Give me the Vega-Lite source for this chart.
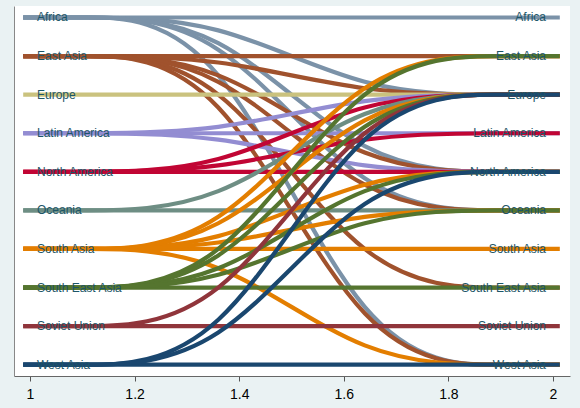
{
  "$schema": "https://vega.github.io/schema/vega-lite/v6.json",
  "width": 556,
  "height": 370,
  "autosize": {"type": "none"},
  "padding": {"left": 14, "top": 6, "right": 10, "bottom": 32},
  "background": "#eaf2f3",
  "config": {
    "view": {"fill": "white", "stroke": null},
    "axis": {"grid": false, "title": null}
  },
  "datasets": {
    "labels": [
      {"r": "Africa", "y": 10}, {"r": "East Asia", "y": 9}, {"r": "Europe", "y": 8},
      {"r": "Latin America", "y": 7}, {"r": "North America", "y": 6}, {"r": "Oceania", "y": 5},
      {"r": "South Asia", "y": 4}, {"r": "South East Asia", "y": 3}, {"r": "Soviet Union", "y": 2},
      {"r": "West Asia", "y": 1}
    ],
    "flows": [
      {"o":"Africa","d":"Africa","x":0.987,"y":10},{"o":"Africa","d":"Africa","x":1.08,"y":10},{"o":"Africa","d":"Africa","x":1.36,"y":10},{"o":"Africa","d":"Africa","x":1.64,"y":10},{"o":"Africa","d":"Africa","x":1.92,"y":10},{"o":"Africa","d":"Africa","x":2.013,"y":10},
      {"o":"Africa","d":"Europe","x":0.987,"y":10},{"o":"Africa","d":"Europe","x":1.08,"y":10},{"o":"Africa","d":"Europe","x":1.36,"y":10},{"o":"Africa","d":"Europe","x":1.64,"y":8},{"o":"Africa","d":"Europe","x":1.92,"y":8},{"o":"Africa","d":"Europe","x":2.013,"y":8},
      {"o":"Africa","d":"North America","x":0.987,"y":10},{"o":"Africa","d":"North America","x":1.08,"y":10},{"o":"Africa","d":"North America","x":1.36,"y":10},{"o":"Africa","d":"North America","x":1.64,"y":6},{"o":"Africa","d":"North America","x":1.92,"y":6},{"o":"Africa","d":"North America","x":2.013,"y":6},
      {"o":"Africa","d":"Oceania","x":0.987,"y":10},{"o":"Africa","d":"Oceania","x":1.08,"y":10},{"o":"Africa","d":"Oceania","x":1.36,"y":10},{"o":"Africa","d":"Oceania","x":1.64,"y":5},{"o":"Africa","d":"Oceania","x":1.92,"y":5},{"o":"Africa","d":"Oceania","x":2.013,"y":5},
      {"o":"Africa","d":"West Asia","x":0.987,"y":10},{"o":"Africa","d":"West Asia","x":1.08,"y":10},{"o":"Africa","d":"West Asia","x":1.36,"y":10},{"o":"Africa","d":"West Asia","x":1.64,"y":1},{"o":"Africa","d":"West Asia","x":1.92,"y":1},{"o":"Africa","d":"West Asia","x":2.013,"y":1},

      {"o":"East Asia","d":"East Asia","x":0.987,"y":9},{"o":"East Asia","d":"East Asia","x":1.08,"y":9},{"o":"East Asia","d":"East Asia","x":1.36,"y":9},{"o":"East Asia","d":"East Asia","x":1.64,"y":9},{"o":"East Asia","d":"East Asia","x":1.92,"y":9},{"o":"East Asia","d":"East Asia","x":2.013,"y":9},
      {"o":"East Asia","d":"Europe","x":0.987,"y":9},{"o":"East Asia","d":"Europe","x":1.08,"y":9},{"o":"East Asia","d":"Europe","x":1.36,"y":9},{"o":"East Asia","d":"Europe","x":1.64,"y":8},{"o":"East Asia","d":"Europe","x":1.92,"y":8},{"o":"East Asia","d":"Europe","x":2.013,"y":8},
      {"o":"East Asia","d":"North America","x":0.987,"y":9},{"o":"East Asia","d":"North America","x":1.08,"y":9},{"o":"East Asia","d":"North America","x":1.36,"y":9},{"o":"East Asia","d":"North America","x":1.64,"y":6},{"o":"East Asia","d":"North America","x":1.92,"y":6},{"o":"East Asia","d":"North America","x":2.013,"y":6},
      {"o":"East Asia","d":"Oceania","x":0.987,"y":9},{"o":"East Asia","d":"Oceania","x":1.08,"y":9},{"o":"East Asia","d":"Oceania","x":1.36,"y":9},{"o":"East Asia","d":"Oceania","x":1.64,"y":5},{"o":"East Asia","d":"Oceania","x":1.92,"y":5},{"o":"East Asia","d":"Oceania","x":2.013,"y":5},
      {"o":"East Asia","d":"South East Asia","x":0.987,"y":9},{"o":"East Asia","d":"South East Asia","x":1.08,"y":9},{"o":"East Asia","d":"South East Asia","x":1.36,"y":9},{"o":"East Asia","d":"South East Asia","x":1.64,"y":3},{"o":"East Asia","d":"South East Asia","x":1.92,"y":3},{"o":"East Asia","d":"South East Asia","x":2.013,"y":3},
      {"o":"East Asia","d":"West Asia","x":0.987,"y":9},{"o":"East Asia","d":"West Asia","x":1.08,"y":9},{"o":"East Asia","d":"West Asia","x":1.36,"y":9},{"o":"East Asia","d":"West Asia","x":1.64,"y":1},{"o":"East Asia","d":"West Asia","x":1.92,"y":1},{"o":"East Asia","d":"West Asia","x":2.013,"y":1},

      {"o":"Europe","d":"Europe","x":0.987,"y":8},{"o":"Europe","d":"Europe","x":1.08,"y":8},{"o":"Europe","d":"Europe","x":1.36,"y":8},{"o":"Europe","d":"Europe","x":1.64,"y":8},{"o":"Europe","d":"Europe","x":1.92,"y":8},{"o":"Europe","d":"Europe","x":2.013,"y":8},

      {"o":"Latin America","d":"Latin America","x":0.987,"y":7},{"o":"Latin America","d":"Latin America","x":1.08,"y":7},{"o":"Latin America","d":"Latin America","x":1.36,"y":7},{"o":"Latin America","d":"Latin America","x":1.64,"y":7},{"o":"Latin America","d":"Latin America","x":1.92,"y":7},{"o":"Latin America","d":"Latin America","x":2.013,"y":7},
      {"o":"Latin America","d":"Europe","x":0.987,"y":7},{"o":"Latin America","d":"Europe","x":1.08,"y":7},{"o":"Latin America","d":"Europe","x":1.36,"y":7},{"o":"Latin America","d":"Europe","x":1.64,"y":8},{"o":"Latin America","d":"Europe","x":1.92,"y":8},{"o":"Latin America","d":"Europe","x":2.013,"y":8},
      {"o":"Latin America","d":"North America","x":0.987,"y":7},{"o":"Latin America","d":"North America","x":1.08,"y":7},{"o":"Latin America","d":"North America","x":1.36,"y":7},{"o":"Latin America","d":"North America","x":1.64,"y":6},{"o":"Latin America","d":"North America","x":1.92,"y":6},{"o":"Latin America","d":"North America","x":2.013,"y":6},

      {"o":"North America","d":"North America","x":0.987,"y":6},{"o":"North America","d":"North America","x":1.08,"y":6},{"o":"North America","d":"North America","x":1.36,"y":6},{"o":"North America","d":"North America","x":1.64,"y":6},{"o":"North America","d":"North America","x":1.92,"y":6},{"o":"North America","d":"North America","x":2.013,"y":6},
      {"o":"North America","d":"Europe","x":0.987,"y":6},{"o":"North America","d":"Europe","x":1.08,"y":6},{"o":"North America","d":"Europe","x":1.36,"y":6},{"o":"North America","d":"Europe","x":1.64,"y":8},{"o":"North America","d":"Europe","x":1.92,"y":8},{"o":"North America","d":"Europe","x":2.013,"y":8},
      {"o":"North America","d":"Latin America","x":0.987,"y":6},{"o":"North America","d":"Latin America","x":1.08,"y":6},{"o":"North America","d":"Latin America","x":1.36,"y":6},{"o":"North America","d":"Latin America","x":1.64,"y":7},{"o":"North America","d":"Latin America","x":1.92,"y":7},{"o":"North America","d":"Latin America","x":2.013,"y":7},

      {"o":"Oceania","d":"Oceania","x":0.987,"y":5},{"o":"Oceania","d":"Oceania","x":1.08,"y":5},{"o":"Oceania","d":"Oceania","x":1.36,"y":5},{"o":"Oceania","d":"Oceania","x":1.64,"y":5},{"o":"Oceania","d":"Oceania","x":1.92,"y":5},{"o":"Oceania","d":"Oceania","x":2.013,"y":5},
      {"o":"Oceania","d":"Europe","x":0.987,"y":5},{"o":"Oceania","d":"Europe","x":1.08,"y":5},{"o":"Oceania","d":"Europe","x":1.36,"y":5},{"o":"Oceania","d":"Europe","x":1.64,"y":8},{"o":"Oceania","d":"Europe","x":1.92,"y":8},{"o":"Oceania","d":"Europe","x":2.013,"y":8},

      {"o":"South Asia","d":"South Asia","x":0.987,"y":4},{"o":"South Asia","d":"South Asia","x":1.08,"y":4},{"o":"South Asia","d":"South Asia","x":1.36,"y":4},{"o":"South Asia","d":"South Asia","x":1.64,"y":4},{"o":"South Asia","d":"South Asia","x":1.92,"y":4},{"o":"South Asia","d":"South Asia","x":2.013,"y":4},
      {"o":"South Asia","d":"East Asia","x":0.987,"y":4},{"o":"South Asia","d":"East Asia","x":1.08,"y":4},{"o":"South Asia","d":"East Asia","x":1.36,"y":4},{"o":"South Asia","d":"East Asia","x":1.64,"y":9},{"o":"South Asia","d":"East Asia","x":1.92,"y":9},{"o":"South Asia","d":"East Asia","x":2.013,"y":9},
      {"o":"South Asia","d":"Europe","x":0.987,"y":4},{"o":"South Asia","d":"Europe","x":1.08,"y":4},{"o":"South Asia","d":"Europe","x":1.36,"y":4},{"o":"South Asia","d":"Europe","x":1.64,"y":8},{"o":"South Asia","d":"Europe","x":1.92,"y":8},{"o":"South Asia","d":"Europe","x":2.013,"y":8},
      {"o":"South Asia","d":"North America","x":0.987,"y":4},{"o":"South Asia","d":"North America","x":1.08,"y":4},{"o":"South Asia","d":"North America","x":1.36,"y":4},{"o":"South Asia","d":"North America","x":1.64,"y":6},{"o":"South Asia","d":"North America","x":1.92,"y":6},{"o":"South Asia","d":"North America","x":2.013,"y":6},
      {"o":"South Asia","d":"Oceania","x":0.987,"y":4},{"o":"South Asia","d":"Oceania","x":1.08,"y":4},{"o":"South Asia","d":"Oceania","x":1.36,"y":4},{"o":"South Asia","d":"Oceania","x":1.64,"y":5},{"o":"South Asia","d":"Oceania","x":1.92,"y":5},{"o":"South Asia","d":"Oceania","x":2.013,"y":5},
      {"o":"South Asia","d":"West Asia","x":0.987,"y":4},{"o":"South Asia","d":"West Asia","x":1.08,"y":4},{"o":"South Asia","d":"West Asia","x":1.36,"y":4},{"o":"South Asia","d":"West Asia","x":1.64,"y":1},{"o":"South Asia","d":"West Asia","x":1.92,"y":1},{"o":"South Asia","d":"West Asia","x":2.013,"y":1},

      {"o":"South East Asia","d":"South East Asia","x":0.987,"y":3},{"o":"South East Asia","d":"South East Asia","x":1.08,"y":3},{"o":"South East Asia","d":"South East Asia","x":1.36,"y":3},{"o":"South East Asia","d":"South East Asia","x":1.64,"y":3},{"o":"South East Asia","d":"South East Asia","x":1.92,"y":3},{"o":"South East Asia","d":"South East Asia","x":2.013,"y":3},
      {"o":"South East Asia","d":"East Asia","x":0.987,"y":3},{"o":"South East Asia","d":"East Asia","x":1.08,"y":3},{"o":"South East Asia","d":"East Asia","x":1.36,"y":3},{"o":"South East Asia","d":"East Asia","x":1.64,"y":9},{"o":"South East Asia","d":"East Asia","x":1.92,"y":9},{"o":"South East Asia","d":"East Asia","x":2.013,"y":9},
      {"o":"South East Asia","d":"Europe","x":0.987,"y":3},{"o":"South East Asia","d":"Europe","x":1.08,"y":3},{"o":"South East Asia","d":"Europe","x":1.36,"y":3},{"o":"South East Asia","d":"Europe","x":1.64,"y":8},{"o":"South East Asia","d":"Europe","x":1.92,"y":8},{"o":"South East Asia","d":"Europe","x":2.013,"y":8},
      {"o":"South East Asia","d":"North America","x":0.987,"y":3},{"o":"South East Asia","d":"North America","x":1.08,"y":3},{"o":"South East Asia","d":"North America","x":1.36,"y":3},{"o":"South East Asia","d":"North America","x":1.64,"y":6},{"o":"South East Asia","d":"North America","x":1.92,"y":6},{"o":"South East Asia","d":"North America","x":2.013,"y":6},
      {"o":"South East Asia","d":"Oceania","x":0.987,"y":3},{"o":"South East Asia","d":"Oceania","x":1.08,"y":3},{"o":"South East Asia","d":"Oceania","x":1.36,"y":3},{"o":"South East Asia","d":"Oceania","x":1.64,"y":5},{"o":"South East Asia","d":"Oceania","x":1.92,"y":5},{"o":"South East Asia","d":"Oceania","x":2.013,"y":5},

      {"o":"Soviet Union","d":"Soviet Union","x":0.987,"y":2},{"o":"Soviet Union","d":"Soviet Union","x":1.08,"y":2},{"o":"Soviet Union","d":"Soviet Union","x":1.36,"y":2},{"o":"Soviet Union","d":"Soviet Union","x":1.64,"y":2},{"o":"Soviet Union","d":"Soviet Union","x":1.92,"y":2},{"o":"Soviet Union","d":"Soviet Union","x":2.013,"y":2},
      {"o":"Soviet Union","d":"Europe","x":0.987,"y":2},{"o":"Soviet Union","d":"Europe","x":1.08,"y":2},{"o":"Soviet Union","d":"Europe","x":1.36,"y":2},{"o":"Soviet Union","d":"Europe","x":1.64,"y":8},{"o":"Soviet Union","d":"Europe","x":1.92,"y":8},{"o":"Soviet Union","d":"Europe","x":2.013,"y":8},

      {"o":"West Asia","d":"West Asia","x":0.987,"y":1},{"o":"West Asia","d":"West Asia","x":1.08,"y":1},{"o":"West Asia","d":"West Asia","x":1.36,"y":1},{"o":"West Asia","d":"West Asia","x":1.64,"y":1},{"o":"West Asia","d":"West Asia","x":1.92,"y":1},{"o":"West Asia","d":"West Asia","x":2.013,"y":1},
      {"o":"West Asia","d":"Europe","x":0.987,"y":1},{"o":"West Asia","d":"Europe","x":1.08,"y":1},{"o":"West Asia","d":"Europe","x":1.36,"y":1},{"o":"West Asia","d":"Europe","x":1.64,"y":8},{"o":"West Asia","d":"Europe","x":1.92,"y":8},{"o":"West Asia","d":"Europe","x":2.013,"y":8},
      {"o":"West Asia","d":"North America","x":0.987,"y":1},{"o":"West Asia","d":"North America","x":1.08,"y":1},{"o":"West Asia","d":"North America","x":1.36,"y":1},{"o":"West Asia","d":"North America","x":1.64,"y":6},{"o":"West Asia","d":"North America","x":1.92,"y":6},{"o":"West Asia","d":"North America","x":2.013,"y":6}
    ]
  },
  "layer": [
    {
      "data": {"name": "flows"},
      "mark": {"type": "line", "interpolate": "basis", "strokeWidth": 4.2, "strokeCap": "butt", "clip": true},
      "encoding": {
        "x": {
          "field": "x", "type": "quantitative",
          "scale": {"domain": [0.9694, 2.0325], "nice": false, "zero": false},
          "axis": {
            "values": [1, 1.2, 1.4, 1.6, 1.8, 2], "format": "~g",
            "domainColor": "#666666", "tickColor": "#555555", "tickSize": 5,
            "labelFont": "Liberation Sans", "labelFontSize": 14, "labelColor": "#000000",
            "labelPadding": 6, "grid": false, "title": null
          }
        },
        "y": {
          "field": "y", "type": "quantitative",
          "scale": {"domain": [0.707, 10.298], "nice": false, "zero": false},
          "axis": {"domain": true, "domainColor": "#888888", "ticks": false, "labels": false, "grid": false, "title": null}
        },
        "color": {
          "field": "o", "type": "nominal", "legend": null,
          "scale": {
            "domain": ["Africa", "East Asia", "Europe", "Latin America", "North America", "Oceania", "South Asia", "South East Asia", "Soviet Union", "West Asia"],
            "range": ["#7b92a8", "#a0522d", "#cac27e", "#938dd2", "#c10534", "#6e8e84", "#e37e00", "#55752f", "#90353b", "#1a476f"]
          }
        },
        "detail": {"field": "d", "type": "nominal"}
      }
    },
    {
      "data": {"name": "labels"},
      "mark": {"type": "text", "align": "left", "baseline": "middle", "dx": 7, "font": "Liberation Sans", "fontSize": 12, "color": "#1d5668"},
      "encoding": {
        "x": {"datum": 1, "type": "quantitative"},
        "y": {"field": "y", "type": "quantitative"},
        "text": {"field": "r"}
      }
    },
    {
      "data": {"name": "labels"},
      "mark": {"type": "text", "align": "right", "baseline": "middle", "dx": -7, "font": "Liberation Sans", "fontSize": 12, "color": "#1d5668"},
      "encoding": {
        "x": {"datum": 2, "type": "quantitative"},
        "y": {"field": "y", "type": "quantitative"},
        "text": {"field": "r"}
      }
    }
  ]
}
